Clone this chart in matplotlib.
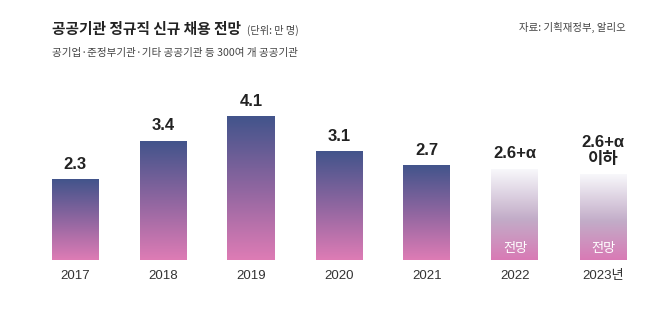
import numpy as np
import matplotlib
matplotlib.use("Agg")
from matplotlib import pyplot as plt
from matplotlib.colors import LinearSegmentedColormap

plt.rcParams['font.family'] = ['Noto Sans CJK KR', 'DejaVu Sans']
latin = ['Liberation Sans', 'Noto Sans CJK KR', 'DejaVu Sans']

# data (unit: 10k people)
years = ['2017', '2018', '2019', '2020', '2021', '2022', '2023년']
values = [2.3, 3.4, 4.1, 3.1, 2.7, 2.6, 2.45]
value_labels = ['2.3', '3.4', '4.1', '3.1', '2.7', '2.6+α', '2.6+α\n이하']
is_forecast = [False, False, False, False, False, True, True]

W, H = 653, 310
fig = plt.figure(figsize=(W / 100, H / 100), dpi=100)
ax = fig.add_axes([0, 0, 1, 1])

# pixel layout: first bar centre at 75px, 88px apart, baseline 50px from bottom, 35px per unit
step, ppu, base = 88.0, 35.0, 50.0
ax.set_xlim(-75 / step, (W - 75) / step)
ax.set_ylim(-base / ppu, (H - base) / ppu)
ax.axis('off')

solid = LinearSegmentedColormap.from_list('solid', ['#de7cb5', '#8f66a0', '#42548b'])
faded = LinearSegmentedColormap.from_list('faded', [(0, '#d97ab5'), (0.45, '#c2acc8'), (1, '#f8f8fb')])
grad = np.linspace(0, 1, 256).reshape(-1, 1)

bw = 47 / step
for i, (v, lab, fc) in enumerate(zip(values, value_labels, is_forecast)):
    cmap = faded if fc else solid
    ax.imshow(grad, cmap=cmap, origin='lower', aspect='auto',
              extent=(i - bw / 2, i + bw / 2, 0, v), zorder=2)
    if fc:
        ax.text(i, 0.32, '전망', ha='center', va='center', color='white',
                fontsize=9.5, zorder=3)
    ax.text(i, v + 0.22, lab, ha='center', va='bottom', fontsize=12,
            fontweight='bold', color='#222222', linespacing=1.12, zorder=3,
            family=latin)
    ax.text(i, -0.45, years[i], ha='center', va='center', fontsize=9.5,
            color='#333333', family=latin)

# header texts
fig.text(52 / W, 1 - 29 / H, '공공기관 정규직 신규 채용 전망', fontsize=10.6,
         fontweight='bold', color='#222222', va='center', ha='left')
fig.text(247 / W, 1 - 30 / H, '(단위: 만 명)', fontsize=7.3, color='#444444',
         va='center', ha='left')
fig.text(52 / W, 1 - 53 / H, '공기업·준정부기관·기타 공공기관 등 300여 개 공공기관',
         fontsize=7.6, color='#444444', va='center', ha='left')
fig.text(626 / W, 1 - 27 / H, '자료: 기획재정부, 알리오', fontsize=7.5,
         color='#444444', va='center', ha='right')

fig.savefig('out.png', dpi=100, facecolor='white')
